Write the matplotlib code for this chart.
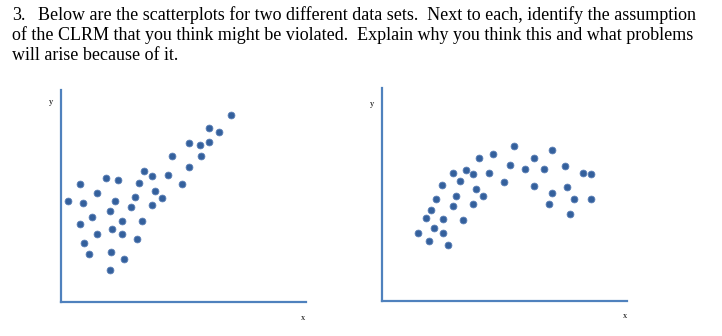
import matplotlib
matplotlib.use("Agg")
import matplotlib.pyplot as plt

# question text lines
line1 = "Below are the scatterplots for two different data sets.  Next to each, identify the assumption"
line2 = "of the CLRM that you think might be violated.  Explain why you think this and what problems"
line3 = "will arise because of it."

# first data set (roughly linear, spread shrinking as x grows)
x1 = [2.7, 7.6, 9.1, 7.8, 9.3, 11.4, 12.7, 14.6, 14.7, 18.4,
      19.9, 20.9, 20.3, 20.1, 21.9, 23.3, 24.8, 24.9, 25.8, 28.7,
      30.2, 30.9, 31.7, 32.9, 34.0, 37.0, 37.0, 38.5, 41.2, 43.8,
      45.3, 49.5, 52.1, 52.1, 56.6, 57.0, 60.4, 60.4, 64.4, 69.5]
y1 = [47.5, 55.7, 46.7, 36.8, 28.0, 22.5, 40.2, 51.4, 31.9, 58.5,
      42.8, 34.3, 23.6, 15.1, 47.6, 57.5, 38.3, 31.9, 20.4, 44.7,
      49.5, 29.9, 56.1, 38.2, 61.8, 59.4, 45.6, 52.4, 49.1, 59.9,
      69.0, 55.8, 74.9, 63.8, 74.2, 68.9, 82.2, 75.5, 80.2, 88.3]

# second data set (curved)
x2 = [14.7, 17.8, 19.1, 20.0, 21.1, 21.9, 24.6, 24.8, 25.0, 26.8,
      28.9, 28.9, 30.3, 31.7, 33.1, 34.2, 37.0, 37.1, 38.5, 39.5,
      41.2, 43.8, 45.3, 49.7, 52.1, 54.0, 58.2, 61.9, 62.0, 66.1,
      68.0, 69.4, 69.4, 74.6, 75.5, 76.9, 78.2, 81.9, 85.3, 85.4]
y2 = [31.9, 39.1, 28.3, 42.9, 34.4, 47.7, 54.5, 38.4, 32.1, 26.4,
      60.2, 44.7, 49.4, 56.2, 38.2, 61.6, 59.5, 45.7, 52.4, 67.0,
      49.2, 60.1, 69.2, 56.0, 64.0, 72.9, 62.1, 54.0, 67.1, 62.0,
      45.7, 50.6, 70.9, 63.5, 53.5, 41.0, 47.9, 60.0, 59.5, 47.9]

W, H = 722, 336
fig = plt.figure(figsize=(W / 100, H / 100), dpi=100)

serif = "Liberation Serif"
fs = 13
fig.text(12 / W, 1 - 19.5 / H, "3.", fontsize=fs, family=serif, va="baseline")
fig.text(38 / W, 1 - 19.5 / H, line1, fontsize=fs, family=serif, va="baseline")
fig.text(12 / W, 1 - 39.5 / H, line2, fontsize=fs, family=serif, va="baseline")
fig.text(12 / W, 1 - 59.5 / H, line3, fontsize=fs, family=serif, va="baseline")

line_col = "#4f81bd"
dot_col = "#34609c"


def make_panel(left, top, right, bottom, xs, ys):
    ax = fig.add_axes([left / W, 1 - bottom / H, (right - left) / W, (bottom - top) / H])
    ax.scatter(xs, ys, s=24, color=dot_col, edgecolor="#5a7fb6", linewidth=0.6, zorder=3)
    ax.set_xlim(0, 100)
    ax.set_ylim(0, 100)
    for side in ["top", "right"]:
        ax.spines[side].set_visible(False)
    for side in ["left", "bottom"]:
        ax.spines[side].set_color(line_col)
        ax.spines[side].set_linewidth(1.6)
    ax.set_xticks([])
    ax.set_yticks([])
    ax.patch.set_alpha(0)
    return ax


make_panel(61, 90, 306, 302, x1, y1)
make_panel(382, 88, 627, 301, x2, y2)

# tiny axis letters
fig.text(51 / W, 1 - 102 / H, "y", fontsize=6, family=serif, ha="center", va="center")
fig.text(303 / W, 1 - 318 / H, "x", fontsize=6, family=serif, ha="center", va="center")
fig.text(372 / W, 1 - 104 / H, "y", fontsize=6, family=serif, ha="center", va="center")
fig.text(625 / W, 1 - 316 / H, "x", fontsize=6, family=serif, ha="center", va="center")

fig.savefig("out.png", dpi=100)
